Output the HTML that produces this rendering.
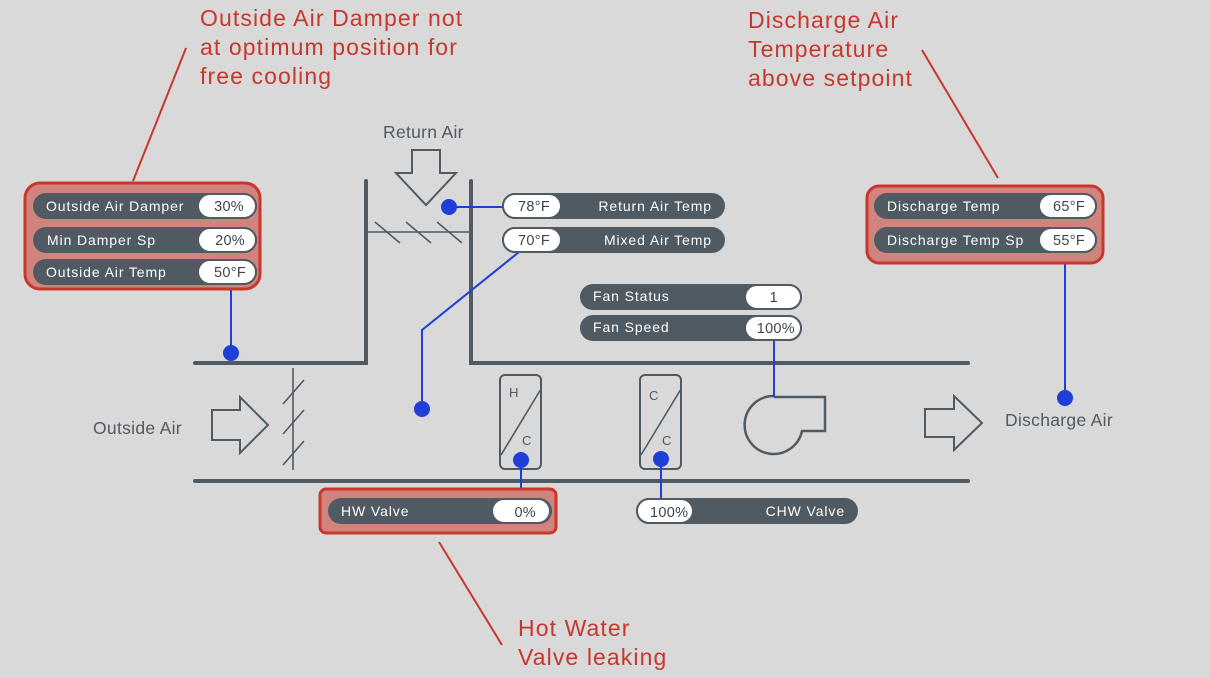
<!DOCTYPE html>
<html><head><meta charset="utf-8"><style>
html,body{margin:0;padding:0;background:#d9d9d9}
svg{display:block}
text{font-family:"Liberation Sans",sans-serif}
.p{fill:#4f5a63}
.w{fill:#fff;stroke:#4f5a63;stroke-width:2}
.lt{fill:#fff;font-size:14px;letter-spacing:0.9px}
.vt{fill:#3d464e;font-size:14.5px;letter-spacing:0.3px}
.d{stroke:#4f5a63;stroke-width:4;fill:none;stroke-linecap:round}
.t{stroke:#4f5a63;stroke-width:1.6;fill:none}
.b{stroke:#1f3fd6;stroke-width:2;fill:none}
.dot{fill:#1f3fd6}
.r{fill:#c8372d;font-size:23px;letter-spacing:1.1px}
.rl{stroke:#c8372d;stroke-width:2}
.hl{fill:#d1847e;stroke:#c8372d;stroke-width:3}
.g{fill:#4f5a63;font-size:17.5px;letter-spacing:0.3px}
</style></head><body>
<svg width="1210" height="678" viewBox="0 0 1210 678">
<rect width="1210" height="678" fill="#d9d9d9"/>
<text class="r" x="200" y="26">Outside Air Damper not</text>
<text class="r" x="200" y="55">at optimum position for</text>
<text class="r" x="200" y="84">free cooling</text>
<line class="rl" x1="186" y1="48" x2="133" y2="181"/>
<text class="r" x="748" y="28">Discharge Air</text>
<text class="r" x="748" y="57">Temperature</text>
<text class="r" x="748" y="86">above setpoint</text>
<line class="rl" x1="922" y1="50" x2="998" y2="178"/>
<text class="r" x="518" y="636">Hot Water</text>
<text class="r" x="518" y="665">Valve leaking</text>
<line class="rl" x1="439" y1="542" x2="502" y2="645"/>

<path class="d" d="M195 363 H366 V181"/>
<path class="d" d="M471 181 V363 H968"/>
<line class="d" x1="195" y1="481" x2="968" y2="481"/>
<line class="t" x1="368" y1="232" x2="470" y2="232"/>
<line class="t" x1="375" y1="222" x2="400" y2="243"/>
<line class="t" x1="406" y1="222" x2="431" y2="243"/>
<line class="t" x1="437" y1="222" x2="462" y2="243"/>
<line class="t" x1="293" y1="368" x2="293" y2="470"/>
<line class="t" x1="283" y1="404" x2="304" y2="380"/>
<line class="t" x1="283" y1="434" x2="304" y2="410"/>
<line class="t" x1="283" y1="465" x2="304" y2="441"/>
<path class="t" style="stroke-width:2" d="M412 150 H440 V173 H456 L426 205 L396 173 H412 Z"/>
<path class="t" style="stroke-width:2" d="M212 410 H240 V397 L268 425 L240 453 V440 H212 Z"/>
<path class="t" style="stroke-width:2" d="M925 409 H954 V396 L982 423 L954 450 V437 H925 Z"/>
<text class="g" x="383" y="138">Return Air</text>
<text class="g" x="93" y="434">Outside Air</text>
<text class="g" x="1005" y="426">Discharge Air</text>

<rect class="t" style="stroke-width:2" x="500" y="375" width="41" height="94" rx="5"/>
<line class="t" x1="541" y1="389" x2="501" y2="455"/>
<text x="509" y="397" fill="#4f5a63" font-size="13">H</text>
<text x="522" y="445" fill="#4f5a63" font-size="13">C</text>
<rect class="t" style="stroke-width:2" x="640" y="375" width="41" height="94" rx="5"/>
<line class="t" x1="681" y1="389" x2="641" y2="455"/>
<text x="649" y="400" fill="#4f5a63" font-size="13">C</text>
<text x="662" y="445" fill="#4f5a63" font-size="13">C</text>
<path class="t" style="stroke-width:2.5" d="M774 397 H825 V431 H802 A29 29 0 1 1 774 396"/>

<path class="b" d="M231 285 V353"/><circle class="dot" cx="231" cy="353" r="8"/>
<path class="b" d="M449 207 H502"/><circle class="dot" cx="449" cy="207" r="8"/>
<path class="b" d="M519 252 L422 330 V409"/><circle class="dot" cx="422" cy="409" r="8"/>
<path class="b" d="M521 460 V499"/><circle class="dot" cx="521" cy="460" r="8"/>
<path class="b" d="M661 459 V499"/><circle class="dot" cx="661" cy="459" r="8"/>
<path class="b" d="M774 341 V397"/>
<path class="b" d="M1065 253 V398"/><circle class="dot" cx="1065" cy="398" r="8"/>

<rect class="hl" x="25" y="183" width="235" height="106" rx="15"/>
<rect class="p" x="33" y="193" width="224" height="26" rx="13"/><rect class="w" x="198" y="194" width="58" height="24" rx="12"/>
<text class="lt" x="46" y="211">Outside Air Damper</text><text class="vt" x="244" y="211" text-anchor="end">30%</text>
<rect class="p" x="33" y="227" width="224" height="26" rx="13"/><rect class="w" x="198" y="228" width="58" height="24" rx="12"/>
<text class="lt" x="47" y="245">Min Damper Sp</text><text class="vt" x="245" y="245" text-anchor="end">20%</text>
<rect class="p" x="33" y="259" width="224" height="26" rx="13"/><rect class="w" x="198" y="260" width="58" height="24" rx="12"/>
<text class="lt" x="46" y="277">Outside Air Temp</text><text class="vt" x="246" y="277" text-anchor="end">50°F</text>

<rect class="p" x="502" y="193" width="223" height="26" rx="13"/><rect class="w" x="503" y="194" width="58" height="24" rx="12"/>
<text class="vt" x="518" y="211">78°F</text><text class="lt" x="712" y="211" text-anchor="end">Return Air Temp</text>
<rect class="p" x="502" y="227" width="223" height="26" rx="13"/><rect class="w" x="503" y="228" width="58" height="24" rx="12"/>
<text class="vt" x="518" y="245">70°F</text><text class="lt" x="712" y="245" text-anchor="end">Mixed Air Temp</text>

<rect class="p" x="580" y="284" width="222" height="26" rx="13"/><rect class="w" x="745" y="285" width="56" height="24" rx="12"/>
<text class="lt" x="593" y="301">Fan Status</text><text class="vt" x="778" y="302" text-anchor="end">1</text>
<rect class="p" x="580" y="315" width="222" height="26" rx="13"/><rect class="w" x="745" y="316" width="56" height="24" rx="12"/>
<text class="lt" x="593" y="332">Fan Speed</text><text class="vt" x="795" y="333" text-anchor="end">100%</text>

<rect class="hl" x="320" y="489" width="236" height="44" rx="6"/>
<rect class="p" x="328" y="498" width="224" height="26" rx="13"/><rect class="w" x="492" y="499" width="58" height="24" rx="12"/>
<text class="lt" x="341" y="516">HW Valve</text><text class="vt" x="536" y="517" text-anchor="end">0%</text>
<rect class="p" x="636" y="498" width="222" height="26" rx="13"/><rect class="w" x="637" y="499" width="56" height="24" rx="12"/>
<text class="vt" x="650" y="517">100%</text><text class="lt" x="845" y="516" text-anchor="end">CHW Valve</text>

<rect class="hl" x="867" y="186" width="236" height="77" rx="12"/>
<rect class="p" x="874" y="193" width="223" height="26" rx="13"/><rect class="w" x="1039" y="194" width="57" height="24" rx="12"/>
<text class="lt" x="887" y="211">Discharge Temp</text><text class="vt" x="1085" y="211" text-anchor="end">65°F</text>
<rect class="p" x="874" y="227" width="223" height="26" rx="13"/><rect class="w" x="1039" y="228" width="57" height="24" rx="12"/>
<text class="lt" x="887" y="245">Discharge Temp Sp</text><text class="vt" x="1085" y="245" text-anchor="end">55°F</text>
</svg>
</body></html>
